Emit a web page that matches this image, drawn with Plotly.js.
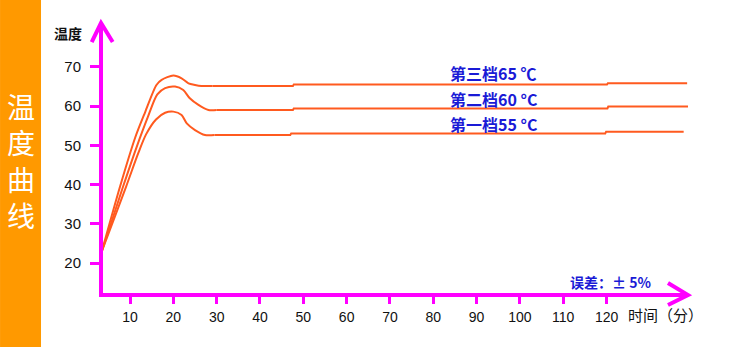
<!DOCTYPE html>
<html>
<head>
<meta charset="utf-8">
<script src="https://cdn.plot.ly/plotly-3.0.1.min.js"></script>
<style>html,body{margin:0;padding:0;background:#fff;}#chart{width:750px;height:347px;}</style>
</head>
<body>
<div id="chart"></div>
<script>
// Heating phase (minutes, °C) for each setting
const riseTime65 = [3.5, 7.7, 11.2, 13.5, 16.1, 17.3, 20.0, 21.9, 23.5, 25.0, 26.5, 29.0];
const riseTemp65 = [23.0, 39.5, 52.0, 58.5, 65.4, 66.7, 67.8, 67.1, 65.8, 65.4, 65.15, 65.15];
const riseTime60 = [3.5, 8.4, 11.5, 14.1, 16.3, 18.1, 20.4, 22.3, 23.8, 25.8, 28.1, 30.0];
const riseTemp60 = [23.0, 39.5, 49.5, 57.2, 63.0, 64.6, 65.0, 64.1, 62.0, 60.3, 59.0, 59.0];
const riseTime55 = [3.5, 9.1, 11.9, 13.7, 16.0, 18.1, 20.0, 21.9, 23.1, 25.0, 27.3, 29.5];
const riseTemp55 = [23.0, 39.5, 48.0, 52.8, 56.6, 58.3, 58.6, 57.75, 55.6, 53.9, 52.65, 52.65];

// Holding phase (minutes, °C)
const holdTime65 = [29.0, 47.6, 47.8, 120.1, 120.3, 138.6];
const holdTemp65 = [65.15, 65.15, 65.5, 65.5, 65.85, 65.85];
const holdTime60 = [30.0, 47.6, 47.8, 120.2, 120.4, 138.8];
const holdTemp60 = [59.0, 59.0, 59.4, 59.4, 59.9, 59.9];
const holdTime55 = [29.5, 47.0, 47.2, 119.7, 119.9, 137.8];
const holdTemp55 = [52.65, 52.65, 53.05, 53.05, 53.5, 53.5];

const xTicks = [10, 20, 30, 40, 50, 60, 70, 80, 90, 100, 110, 120];
const yTicks = [20, 30, 40, 50, 60, 70];
const seriesLabels = ['第三档65 ℃', '第二档60 °C', '第一档55 °C'];
const labelTemps = [68.5, 61.8, 55.4];
const labelTime = 83.4;

const lineColor = '#ff5a1f';
const axisColor = '#ff00ff';
const blue = '#1a1ad6';

function trace(x, y, shape) {
  return {x: x, y: y, type: 'scatter', mode: 'lines',
    line: {color: lineColor, width: 2, shape: shape, smoothing: 0.8},
    hoverinfo: 'skip', showlegend: false, cliponaxis: false};
}

const data = [
  trace(riseTime65, riseTemp65, 'spline'), trace(holdTime65, holdTemp65, 'linear'),
  trace(riseTime60, riseTemp60, 'spline'), trace(holdTime60, holdTemp60, 'linear'),
  trace(riseTime55, riseTemp55, 'spline'), trace(holdTime55, holdTemp55, 'linear')
];

const annotations = seriesLabels.map((t, i) => ({
  x: labelTime, y: labelTemps[i], xref: 'x', yref: 'y', text: t, showarrow: false,
  xanchor: 'left', yanchor: 'middle',
  font: {family: 'Noto Sans CJK SC, Liberation Sans, sans-serif', size: 16, color: blue, weight: 'bold'}
}));
annotations.push({
  x: 111.1, y: 15.2, xref: 'x', yref: 'y', text: '误差：± 5%', showarrow: false,
  xanchor: 'left', yanchor: 'middle',
  font: {family: 'Noto Sans CJK SC, Liberation Sans, sans-serif', size: 14, color: blue, weight: 'bold'}
});
annotations.push({
  x: -0.0562, y: 0.9632, xref: 'paper', yref: 'paper', text: '温度', showarrow: false,
  xanchor: 'center', yanchor: 'middle',
  font: {family: 'Noto Sans CJK SC, sans-serif', size: 14, color: '#111', weight: 'bold'}
});
annotations.push({
  x: 0.8944, y: -0.0735, xref: 'paper', yref: 'paper', text: '时间（分）', showarrow: false,
  xanchor: 'left', yanchor: 'middle',
  font: {family: 'Noto Sans CJK SC, sans-serif', size: 15, color: '#111'}
});
annotations.push({
  x: -0.137, y: 0.4945, xref: 'paper', yref: 'paper', text: '温<br>度<br>曲<br>线', showarrow: false,
  xanchor: 'center', yanchor: 'middle',
  font: {family: 'Noto Sans CJK SC, sans-serif', size: 28, color: '#ffffff'}
});

const shapes = [
  {type: 'rect', xref: 'paper', yref: 'paper', x0: -0.172, x1: -0.1022, y0: -0.2, y1: 1.1,
   fillcolor: '#ff9900', line: {width: 0}, layer: 'below'},
  {type: 'line', xref: 'paper', yref: 'paper', x0: 0, x1: 0, y0: -0.0074, y1: 1.0, line: {color: axisColor, width: 4}},
  {type: 'line', xref: 'paper', yref: 'paper', x0: -0.0034, x1: 1.0, y0: 0, y1: 0, line: {color: axisColor, width: 4}},
  {type: 'path', xref: 'paper', yref: 'paper', path: 'M -0.01584 0.930 L 0 1.0 L 0.01993 0.930', line: {color: axisColor, width: 4}},
  {type: 'path', xref: 'paper', yref: 'paper', path: 'M 0.9659 0.0441 L 1 0 L 0.9659 -0.0368', line: {color: axisColor, width: 4}}
];

const layout = {
  width: 750, height: 347,
  margin: {l: 101, r: 62, t: 23, b: 52},
  paper_bgcolor: '#ffffff', plot_bgcolor: '#ffffff',
  showlegend: false,
  xaxis: {range: [3.3, 138.8], tickvals: xTicks, ticktext: xTicks.map(String), ticks: 'outside', ticklen: 8,
    tickwidth: 3, tickcolor: axisColor, showgrid: false, zeroline: false, showline: false,
    tickfont: {family: 'Liberation Sans, Arial, sans-serif', size: 14, color: '#111'}, ticklabelstandoff: 1},
  yaxis: {range: [11.84, 81.2], tickvals: yTicks, ticktext: yTicks.map(String), ticks: 'outside', ticklen: 10,
    tickwidth: 3, tickcolor: axisColor, showgrid: false, zeroline: false, showline: false,
    tickfont: {family: 'Liberation Sans, Arial, sans-serif', size: 15, color: '#111'}, ticklabelstandoff: 6},
  annotations: annotations,
  shapes: shapes
};

Plotly.newPlot('chart', data, layout, {displayModeBar: false, staticPlot: true});
</script>
</body>
</html>
